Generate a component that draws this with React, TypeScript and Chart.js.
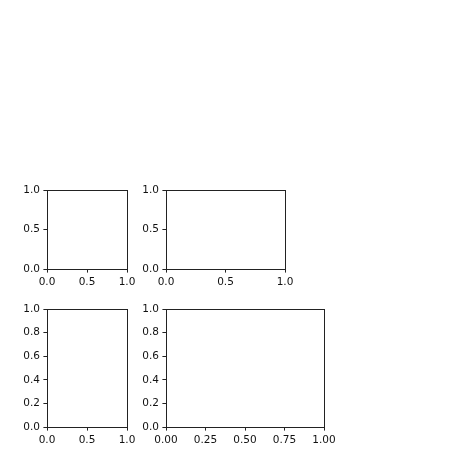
import { Chart, registerables } from 'chart.js';
import { useEffect, useRef } from 'react';

Chart.register(...registerables);

// tick values and labels for each subplot
const topLeftXTicks = [0, 0.5, 1];
const topLeftXLabels = ['0.0', '0.5', '1.0'];
const topLeftYTicks = [0, 0.5, 1];
const topLeftYLabels = ['0.0', '0.5', '1.0'];

const topRightXTicks = [0, 0.5, 1];
const topRightXLabels = ['0.0', '0.5', '1.0'];
const topRightYTicks = [0, 0.5, 1];
const topRightYLabels = ['0.0', '0.5', '1.0'];

const bottomLeftXTicks = [0, 0.5, 1];
const bottomLeftXLabels = ['0.0', '0.5', '1.0'];
const bottomLeftYTicks = [0, 0.2, 0.4, 0.6, 0.8, 1];
const bottomLeftYLabels = ['0.0', '0.2', '0.4', '0.6', '0.8', '1.0'];

const bottomRightXTicks = [0, 0.25, 0.5, 0.75, 1];
const bottomRightXLabels = ['0.00', '0.25', '0.50', '0.75', '1.00'];
const bottomRightYTicks = [0, 0.2, 0.4, 0.6, 0.8, 1];
const bottomRightYLabels = ['0.0', '0.2', '0.4', '0.6', '0.8', '1.0'];

const PAD_LEFT = 40;
const PAD_TOP = 10;
const PAD_RIGHT = 20;
const PAD_BOTTOM = 22;
const LINE = '#222';

// matplotlib style frame, all four spines
const frame = {
    id: 'frame',
    afterDraw(chart: Chart) {
        const { ctx, chartArea } = chart;
        ctx.save();
        ctx.strokeStyle = LINE;
        ctx.lineWidth = 1;
        ctx.strokeRect(
            Math.round(chartArea.left) + 0.5,
            Math.round(chartArea.top) + 0.5,
            Math.round(chartArea.right - chartArea.left),
            Math.round(chartArea.bottom - chartArea.top)
        );
        ctx.restore();
    },
};

interface AxesProps {
    left: number;
    top: number;
    right: number;
    bottom: number;
    xTicks: number[];
    xLabels: string[];
    yTicks: number[];
    yLabels: string[];
}

const Axes: React.FC<AxesProps> = ({ left, top, right, bottom, xTicks, xLabels, yTicks, yLabels }) => {
    const chartRef = useRef<HTMLCanvasElement | null>(null);
    const width = right - left + PAD_LEFT + PAD_RIGHT;
    const height = bottom - top + PAD_TOP + PAD_BOTTOM;

    useEffect(() => {
        if (!chartRef.current) {
            return;
        }
        const font = { family: 'DejaVu Sans', size: 10.5 };
        const axis = (ticks: number[], labels: string[], isX: boolean) => ({
            type: 'linear' as const,
            position: isX ? ('bottom' as const) : ('left' as const),
            min: 0,
            max: 1,
            grid: {
                display: true,
                drawOnChartArea: false,
                drawTicks: true,
                tickLength: 3.6,
                tickColor: LINE,
                tickWidth: 1,
                color: LINE,
            },
            border: { display: false },
            afterBuildTicks: (scale: any) => {
                scale.ticks = ticks.map((v) => ({ value: v }));
            },
            afterFit: (scale: any) => {
                if (isX) {
                    scale.height = PAD_BOTTOM;
                } else {
                    scale.width = PAD_LEFT;
                }
                scale.paddingLeft = 0;
                scale.paddingRight = 0;
                scale.paddingTop = 0;
                scale.paddingBottom = 0;
            },
            ticks: {
                autoSkip: false,
                maxRotation: 0,
                minRotation: 0,
                padding: 3.5,
                color: '#111',
                font,
                callback: (_value: any, index: number) => labels[index],
            },
        });

        const chart = new Chart(chartRef.current, {
            type: 'scatter',
            data: { datasets: [] },
            options: {
                responsive: false,
                animation: false,
                layout: { padding: { left: 0, top: PAD_TOP, right: PAD_RIGHT, bottom: 0 } },
                plugins: { legend: { display: false }, tooltip: { enabled: false } },
                scales: {
                    x: axis(xTicks, xLabels, true),
                    y: axis(yTicks, yLabels, false),
                },
            },
            plugins: [frame],
        });

        return () => {
            chart.destroy();
        };
    }, []);

    return (
        <canvas
            ref={chartRef}
            width={width}
            height={height}
            style={{ position: 'absolute', left: left - PAD_LEFT, top: top - PAD_TOP, width, height }}
        />
    );
};

export default function App() {
    return (
        <div style={{ position: 'absolute', left: 0, top: 0, width: 474, height: 474, background: '#fff' }}>
            <Axes left={47} top={190} right={127} bottom={269}
                xTicks={topLeftXTicks} xLabels={topLeftXLabels} yTicks={topLeftYTicks} yLabels={topLeftYLabels} />
            <Axes left={166} top={190} right={285} bottom={269}
                xTicks={topRightXTicks} xLabels={topRightXLabels} yTicks={topRightYTicks} yLabels={topRightYLabels} />
            <Axes left={47} top={309} right={127} bottom={427}
                xTicks={bottomLeftXTicks} xLabels={bottomLeftXLabels} yTicks={bottomLeftYTicks} yLabels={bottomLeftYLabels} />
            <Axes left={166} top={309} right={324} bottom={427}
                xTicks={bottomRightXTicks} xLabels={bottomRightXLabels} yTicks={bottomRightYTicks} yLabels={bottomRightYLabels} />
        </div>
    );
}
